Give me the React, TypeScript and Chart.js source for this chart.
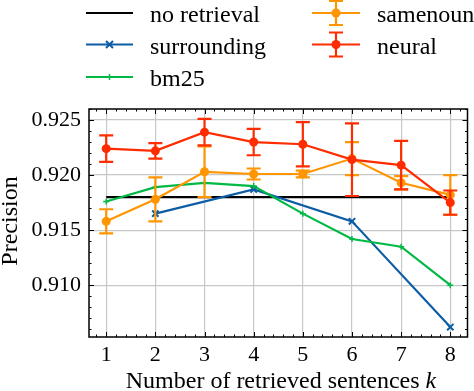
import React, { useEffect, useRef } from 'react';
import { Chart, registerables } from 'chart.js';

Chart.register(...registerables);

const kValues = [1, 2, 3, 4, 5, 6, 7, 8];
const noRetrieval = [0.918, 0.918, 0.918, 0.918, 0.918, 0.918, 0.918, 0.918];
const surroundingK = [2, 4, 6, 8];
const surrounding = [0.9165, 0.9187, 0.9158, 0.9062];
const bm25 = [0.9176, 0.9189, 0.9193, 0.919, 0.9165, 0.9142, 0.9135, 0.91];
const samenoun = [0.9158, 0.9178, 0.9203, 0.9201, 0.9201, 0.9215, 0.9193, 0.9182];
const samenounErr = [0.0011, 0.002, 0.0023, 0.0005, 0.0003, 0.0015, 0.0006, 0.0018];
const neural = [0.9224, 0.9222, 0.9239, 0.923, 0.9228, 0.9214, 0.9209, 0.9175];
const neuralErr = [0.0012, 0.0007, 0.0012, 0.0012, 0.002, 0.0033, 0.0022, 0.0011];
const xTicks = [1, 2, 3, 4, 5, 6, 7, 8];
const yTicks = [0.91, 0.915, 0.92, 0.925];
const seriesNames = ['no retrieval', 'surrounding', 'bm25', 'samenoun', 'neural'];
const xTitle = 'Number of retrieved sentences ';
const xTitleVar = 'k';
const yTitle = 'Precision';

const C_BLACK = '#000000';
const C_BLUE = '#0C5DA5';
const C_GREEN = '#00B945';
const C_ORANGE = '#FF9500';
const C_RED = '#FF2C00';
const FONT = '"Liberation Serif", "Times New Roman", serif';
const LW = 2.2;

const X_MIN = 0.65;
const X_MAX = 8.35;
const Y_MIN = 0.9053;
const Y_MAX = 0.926;

function pts(xs: number[], ys: number[]) {
  return xs.map((x, i) => ({ x, y: ys[i] }));
}

const errorBarPlugin = {
  id: 'errorBars',
  afterDatasetDraw(chart: any, args: any) {
    const ds = chart.data.datasets[args.index];
    if (!ds.errors) return;
    const ctx = chart.ctx;
    const xs = chart.scales.x;
    const ys = chart.scales.y;
    ctx.save();
    ctx.strokeStyle = ds.borderColor;
    ctx.lineWidth = LW;
    ds.data.forEach((p: any, i: number) => {
      const e = ds.errors[i];
      const px = xs.getPixelForValue(p.x);
      const top = ys.getPixelForValue(p.y + e);
      const bot = ys.getPixelForValue(p.y - e);
      ctx.beginPath();
      ctx.moveTo(px, top);
      ctx.lineTo(px, bot);
      ctx.moveTo(px - 7, top);
      ctx.lineTo(px + 7, top);
      ctx.moveTo(px - 7, bot);
      ctx.lineTo(px + 7, bot);
      ctx.stroke();
    });
    ctx.restore();
  },
};

function drawMarker(ctx: CanvasRenderingContext2D, kind: string, x: number, y: number, color: string) {
  ctx.save();
  ctx.strokeStyle = color;
  ctx.fillStyle = color;
  if (kind === 'circle') {
    ctx.beginPath();
    ctx.arc(x, y, 4.5, 0, Math.PI * 2);
    ctx.fill();
  } else if (kind === 'x') {
    ctx.lineWidth = 2;
    ctx.beginPath();
    ctx.moveTo(x - 3.5, y - 3.5);
    ctx.lineTo(x + 3.5, y + 3.5);
    ctx.moveTo(x + 3.5, y - 3.5);
    ctx.lineTo(x - 3.5, y + 3.5);
    ctx.stroke();
  } else if (kind === 'plus') {
    ctx.lineWidth = 1.5;
    ctx.beginPath();
    ctx.moveTo(x - 3, y);
    ctx.lineTo(x + 3, y);
    ctx.moveTo(x, y - 3);
    ctx.lineTo(x, y + 3);
    ctx.stroke();
  }
  ctx.restore();
}

const framePlugin = {
  id: 'frameTicksLegend',
  afterDraw(chart: any) {
    const ctx = chart.ctx as CanvasRenderingContext2D;
    const { left, right, top, bottom } = chart.chartArea;
    const xs = chart.scales.x;
    const ys = chart.scales.y;
    ctx.save();
    ctx.strokeStyle = '#000';
    ctx.lineWidth = 1;
    for (let i = 0; i <= 100; i++) {
      const v = Math.round((0.2 * i) * 10) / 10;
      if (v < X_MIN || v > X_MAX) continue;
      const major = Math.abs(v - Math.round(v)) < 1e-6;
      const len = major ? 5 : 2.5;
      const px = Math.round(xs.getPixelForValue(v)) + 0.5;
      ctx.beginPath();
      ctx.moveTo(px, bottom);
      ctx.lineTo(px, bottom - len);
      ctx.moveTo(px, top);
      ctx.lineTo(px, top + len);
      ctx.stroke();
    }
    for (let i = 900; i <= 930; i++) {
      const v = i / 1000;
      if (v < Y_MIN || v > Y_MAX) continue;
      const major = i % 5 === 0;
      const len = major ? 5 : 2.5;
      const py = Math.round(ys.getPixelForValue(v)) + 0.5;
      ctx.beginPath();
      ctx.moveTo(left, py);
      ctx.lineTo(left + len, py);
      ctx.moveTo(right, py);
      ctx.lineTo(right - len, py);
      ctx.stroke();
    }
    ctx.lineWidth = 1.5;
    ctx.strokeRect(left, top, right - left, bottom - top);

    ctx.fillStyle = '#000';
    ctx.font = `24px ${FONT}`;
    const w1 = ctx.measureText(xTitle).width;
    ctx.font = `italic 24px ${FONT}`;
    const w2 = ctx.measureText(xTitleVar).width;
    const cx = 281;
    const sx = cx - (w1 + w2) / 2;
    ctx.textBaseline = 'alphabetic';
    ctx.textAlign = 'left';
    ctx.font = `24px ${FONT}`;
    ctx.fillText(xTitle, sx, 388);
    ctx.font = `italic 24px ${FONT}`;
    ctx.fillText(xTitleVar, sx + w1, 388);

    ctx.save();
    ctx.translate(17, 221);
    ctx.rotate(-Math.PI / 2);
    ctx.font = `24px ${FONT}`;
    ctx.textAlign = 'center';
    ctx.fillText(yTitle, 0, 0);
    ctx.restore();

    const items = [
      { name: seriesNames[0], color: C_BLACK, marker: 'none', err: false, x0: 86, x1: 133, tx: 150, y: 13 },
      { name: seriesNames[1], color: C_BLUE, marker: 'x', err: false, x0: 86, x1: 133, tx: 150, y: 44.5 },
      { name: seriesNames[2], color: C_GREEN, marker: 'plus', err: false, x0: 86, x1: 133, tx: 150, y: 77 },
      { name: seriesNames[3], color: C_ORANGE, marker: 'circle', err: true, x0: 312, x1: 360, tx: 377, y: 13 },
      { name: seriesNames[4], color: C_RED, marker: 'circle', err: true, x0: 312, x1: 360, tx: 377, y: 44.5 },
    ];
    ctx.font = `24px ${FONT}`;
    ctx.textAlign = 'left';
    ctx.textBaseline = 'alphabetic';
    items.forEach((it) => {
      ctx.strokeStyle = it.color;
      ctx.lineWidth = LW;
      ctx.beginPath();
      ctx.moveTo(it.x0, it.y);
      ctx.lineTo(it.x1, it.y);
      ctx.stroke();
      const mx = (it.x0 + it.x1) / 2;
      if (it.err) {
        ctx.beginPath();
        ctx.moveTo(mx, it.y - 12);
        ctx.lineTo(mx, it.y + 12);
        ctx.moveTo(mx - 7, it.y - 12);
        ctx.lineTo(mx + 7, it.y - 12);
        ctx.moveTo(mx - 7, it.y + 12);
        ctx.lineTo(mx + 7, it.y + 12);
        ctx.stroke();
      }
      if (it.marker !== 'none') drawMarker(ctx, it.marker, mx, it.y, it.color);
      ctx.fillStyle = '#000';
      ctx.fillText(it.name, it.tx, it.y + 9);
    });
    ctx.restore();
  },
};

export default function App() {
  const ref = useRef<HTMLCanvasElement | null>(null);
  useEffect(() => {
    document.body.style.margin = '0';
    if (!ref.current) return;
    const chart = new Chart(ref.current, {
      type: 'line',
      data: {
        datasets: [
          {
            label: seriesNames[0],
            data: pts(kValues, noRetrieval),
            borderColor: C_BLACK,
            backgroundColor: C_BLACK,
            borderWidth: LW,
            pointRadius: 0,
            order: 4,
          },
          {
            label: seriesNames[1],
            data: pts(surroundingK, surrounding),
            borderColor: C_BLUE,
            backgroundColor: C_BLUE,
            borderWidth: LW,
            pointStyle: 'crossRot',
            pointRadius: 4.5,
            pointBorderWidth: 2,
            order: 3,
          },
          {
            label: seriesNames[2],
            data: pts(kValues, bm25),
            borderColor: C_GREEN,
            backgroundColor: C_GREEN,
            borderWidth: LW,
            pointStyle: 'cross',
            pointRadius: 3,
            pointBorderWidth: 1.5,
            order: 2,
          },
          {
            label: seriesNames[3],
            data: pts(kValues, samenoun),
            errors: samenounErr,
            borderColor: C_ORANGE,
            backgroundColor: C_ORANGE,
            borderWidth: LW,
            pointStyle: 'circle',
            pointRadius: 4.5,
            pointBorderWidth: 0,
            order: 1,
          },
          {
            label: seriesNames[4],
            data: pts(kValues, neural),
            errors: neuralErr,
            borderColor: C_RED,
            backgroundColor: C_RED,
            borderWidth: LW,
            pointStyle: 'circle',
            pointRadius: 4.5,
            pointBorderWidth: 0,
            order: 0,
          },
        ] as any,
      },
      options: {
        responsive: false,
        animation: false,
        devicePixelRatio: 1,
        layout: { padding: { top: 109, right: 2, left: 0, bottom: 0 } },
        plugins: { legend: { display: false }, tooltip: { enabled: false } },
        elements: { line: { tension: 0 } },
        scales: {
          x: {
            type: 'linear',
            min: X_MIN,
            max: X_MAX,
            afterBuildTicks: (s: any) => {
              s.ticks = xTicks.map((v) => ({ value: v }));
            },
            afterFit: (s: any) => {
              s.height = 54;
            },
            grid: { color: '#c8c8c8', lineWidth: 1.2, drawTicks: false },
            border: { display: false },
            ticks: {
              color: '#000',
              font: { family: FONT, size: 22 },
              padding: 5,
              maxRotation: 0,
              autoSkip: false,
              callback: (v: any) => String(v),
            },
          },
          y: {
            type: 'linear',
            min: Y_MIN,
            max: Y_MAX,
            afterBuildTicks: (s: any) => {
              s.ticks = yTicks.map((v) => ({ value: v }));
            },
            afterFit: (s: any) => {
              s.width = 89;
            },
            grid: { color: '#c8c8c8', lineWidth: 1.2, drawTicks: false },
            border: { display: false },
            ticks: {
              color: '#000',
              font: { family: FONT, size: 22 },
              padding: 8,
              autoSkip: false,
              callback: (v: any) => Number(v).toFixed(3),
            },
          },
        },
      },
      plugins: [errorBarPlugin, framePlugin],
    } as any);
    return () => chart.destroy();
  }, []);
  return (
    <div style={{ width: 474, height: 391 }}>
      <canvas ref={ref} width={474} height={391} style={{ display: 'block' }} />
    </div>
  );
}
